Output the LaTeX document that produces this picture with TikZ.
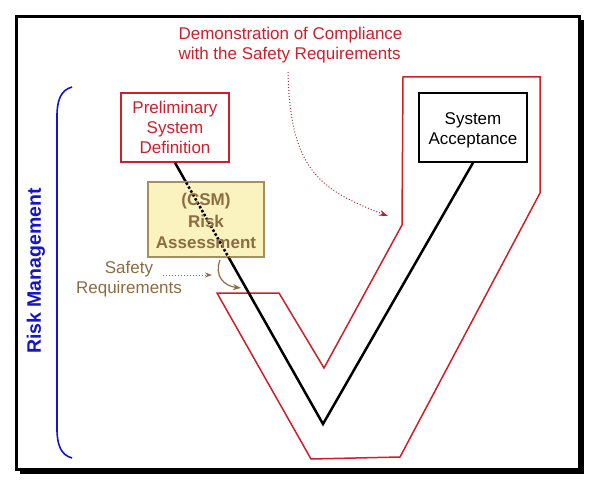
\documentclass[tikz,border=0pt]{standalone}
\usepackage{fontspec}
\setmainfont{Liberation Sans}
\usetikzlibrary{positioning,arrows.meta,calc}

\definecolor{vred}{RGB}{208,30,42}
\definecolor{dred}{RGB}{176,40,56}
\definecolor{rmblue}{RGB}{20,20,200}
\definecolor{csmbrown}{RGB}{140,108,66}
\definecolor{csmedge}{RGB}{168,142,90}
\definecolor{csmfill}{RGB}{250,243,192}

\tikzset{
  phasebox/.style={draw, line width=1.5pt, minimum width=108pt, minimum height=69pt,
    align=center, inner sep=0pt},
  lbl/.style={align=center, inner sep=0pt}
}

\begin{document}
\begin{tikzpicture}[x=1pt, y=-1pt, font=\fontsize{17}{20}\selectfont]
  \useasboundingbox (0,0) rectangle (600,487);
  % frame
  \draw[line width=3pt] (16.5,16.5) rectangle (579.5,469.5);
  \draw[line width=3pt] (582,20) -- (582,472.5) -- (20,472.5);

  % red outline of the V
  \draw[vred, line width=1.5pt, line join=miter]
    (403,77) -- (540,77) -- (540,193) -- (400,457) -- (311,459) -- (217,293)
    -- (279,293) -- (324,368) -- (402,225) -- cycle;

  % boxes
  \node[phasebox, vred, text=vred] (prelim) at (175,127.5)
    {Preliminary\\System\\Definition};
  \node[phasebox, draw=black] (accept) at (473,127.5) {};
  \node[lbl] (accepttxt) at (473,130) {System\\Acceptance};
  \coordinate (vtip) at (323,424);

  % the V itself
  \draw[line width=2.5pt, line join=miter] (prelim.south) -- (vtip) -- (accept.south);

  \node[phasebox, draw=csmedge, fill=csmfill, minimum width=116pt, minimum height=75pt]
    (csm) at (206,219.5) {};
  \draw[line width=2.5pt, dotted]
    ($(prelim.south)!0.076!(vtip)$) -- ($(prelim.south)!0.363!(vtip)$);
  \node[lbl, text=csmbrown, font=\fontsize{17}{21.5}\selectfont\bfseries] (csmtxt) at (206,221)
    {(CSM)\\Risk\\Assessment};

  % safety requirements
  \node[lbl, text=csmbrown] (safereq) at (129,279) {Safety\\Requirements};
  \coordinate (sa1) at (163,275);
  \coordinate (sa2) at (212,275);
  \draw[csmbrown, line width=1pt, dotted, -{Stealth[length=7pt,width=5pt]}] (sa1) -- (sa2);
  \coordinate (ca1) at (220,260);
  \coordinate (ca2) at (241,288);
  \draw[csmbrown, line width=1.2pt, -{Stealth[length=8pt,width=6pt]}]
    (ca1) .. controls (214,276) and (224,286) .. (ca2);

  % demonstration of compliance
  \node[lbl, text=vred, align=left] (demo) at (290.5,45)
    {Demonstration of Compliance\\with the Safety Requirements};
  \coordinate (dm1) at (288,72);
  \coordinate (dm2) at (388,216);
  \draw[dred, line width=1pt, dotted, -{Stealth[length=9pt,width=6pt]}]
    (dm1) .. controls (290,170) and (320,190) .. (dm2);

  % risk management brace
  \draw[rmblue, line width=1.6pt]
    (72,87) .. controls (61,90) and (57,100) .. (57,116) -- (57,429)
    .. controls (57,445) and (61,455) .. (72,458);
  \node[lbl, text=rmblue, rotate=90, font=\fontsize{19.5}{22}\selectfont\bfseries]
    (riskmgmt) at (36,271) {Risk Management};
\end{tikzpicture}
\end{document}
